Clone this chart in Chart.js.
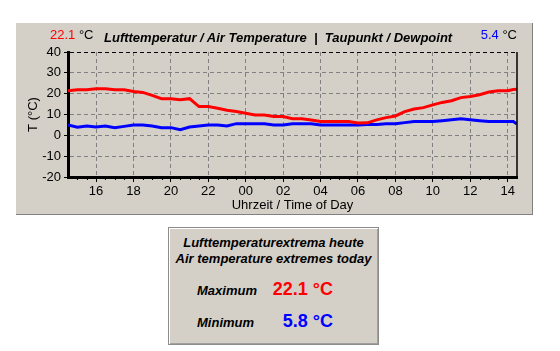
<!DOCTYPE html>
<html>
<head>
<meta charset="utf-8">
<script src="https://cdn.jsdelivr.net/npm/chart.js@4.4.0/dist/chart.umd.min.js"></script>
<style>
body { margin: 0; background: #fff; font-family: 'Liberation Sans', Arial, sans-serif; width: 560px; height: 351px; position: relative; overflow: hidden; }
#panel { position: absolute; left: 16px; top: 23px; width: 516px; height: 191px; background: #d4d0c8; border-right: 1px solid #808080; border-bottom: 1px solid #808080; }
#panel canvas { position: absolute; left: 0; top: 0; }
.t { position: absolute; white-space: nowrap; line-height: 1; }
.hdr { font-size: 13px; top: 5px; }
.title { font-size: 13px; font-weight: bold; font-style: italic; top: 8px; left: 88px; }
#box { position: absolute; left: 168px; top: 227px; width: 209px; height: 116px; background: #d4d0c8; border: 1px solid #8c8c8c; box-shadow: inset 1px 1px 0 #fff, inset -1px -1px 0 #a0a0a0; }
.bi { font-size: 13px; font-weight: bold; font-style: italic; }
.big { font-size: 18px; font-weight: bold; }
</style>
</head>
<body>
<div id="panel">
  <canvas id="chart" width="516" height="191"></canvas>
  <div class="t hdr" style="left:34px"><span id="airNow" style="color:#ff0000"></span> °C</div>
  <div class="t title">Lufttemperatur / Air Temperature&nbsp; |&nbsp; Taupunkt / Dewpoint</div>
  <div class="t hdr" style="right:15px"><span id="dewNow" style="color:#0000ff"></span> °C</div>
</div>
<div id="box">
  <div class="t bi" style="left:0;right:0;text-align:center;top:8px">Lufttemperaturextrema heute</div>
  <div class="t bi" style="left:0;right:0;text-align:center;top:24px">Air temperature extremes today</div>
  <div class="t bi" style="left:28px;top:56px">Maximum</div>
  <div class="t big" style="right:45px;top:52px;color:#ff0000"><span id="maxVal"></span> °C</div>
  <div class="t bi" style="left:28px;top:88px">Minimum</div>
  <div class="t big" style="right:45px;top:84px;color:#0000ff"><span id="minVal"></span> °C</div>
</div>
<script>
// time in hours since midnight of the previous day (14:30 -> 14:30 next day)
const hours = [14.5, 15, 15.5, 16, 16.5, 17, 17.5, 18, 18.5, 19, 19.5, 20, 20.5, 21, 21.5, 22, 22.5,
  23, 23.5, 24, 24.5, 25, 25.5, 26, 26.5, 27, 27.5, 28, 28.5, 29, 29.5, 30, 30.5,
  31, 31.5, 32, 32.5, 33, 33.5, 34, 34.5, 35, 35.5, 36, 36.5, 37, 37.5, 38, 38.3, 38.5];
const airTemp = [21.4, 21.9, 21.9, 22.4, 22.4, 21.9, 21.9, 21.0, 20.6, 19.2, 17.6, 17.6, 17.1, 17.6, 13.8, 13.8, 13.0,
  12.0, 11.4, 10.6, 9.8, 9.8, 9.0, 9.0, 8.0, 8.0, 7.4, 6.6, 6.6, 6.6, 6.6, 5.9, 6.0,
  7.4, 8.5, 9.3, 11.4, 12.6, 13.3, 14.6, 15.8, 16.6, 18.1, 18.6, 19.5, 20.8, 21.4, 21.4, 22.0, 22.1];
const dewPoint = [5.0, 3.9, 4.5, 4.0, 4.5, 3.7, 4.3, 5.0, 5.0, 4.5, 3.7, 3.7, 2.7, 4.0, 4.5, 5.0, 5.0,
  4.5, 5.6, 5.6, 5.6, 5.6, 5.0, 5.0, 5.6, 5.6, 5.6, 5.0, 5.0, 5.0, 5.0, 5.0, 5.2,
  5.2, 5.6, 5.6, 6.1, 6.6, 6.6, 6.6, 7.0, 7.5, 8.0, 7.5, 7.0, 6.6, 6.6, 6.6, 6.6, 5.4];
const xTicks = [16, 18, 20, 22, 24, 26, 28, 30, 32, 34, 36, 38];
const yMin = -20, yMax = 40, yStep = 10;
const airNow = '22.1', dewNow = '5.4', airMax = '22.1', airMin = '5.8';

document.getElementById('airNow').textContent = airNow;
document.getElementById('dewNow').textContent = dewNow;
document.getElementById('maxVal').textContent = airMax;
document.getElementById('minVal').textContent = airMin;

Chart.defaults.font.family = "'Liberation Sans', Arial, sans-serif";
Chart.defaults.color = '#000';

// right frame line + half-hour minor ticks on the time axis
const framePlugin = {
  id: 'frame',
  afterDraw(chart) {
    const { ctx, chartArea: a, scales: { x } } = chart;
    ctx.save();
    ctx.strokeStyle = '#000';
    ctx.lineWidth = 1.5;
    ctx.beginPath();
    ctx.moveTo(a.right, a.top);
    ctx.lineTo(a.right, a.bottom);
    ctx.stroke();
    ctx.lineWidth = 1;
    ctx.beginPath();
    for (let t = 15; t <= 38; t += 0.5) {
      if (xTicks.includes(t)) continue;
      const px = Math.round(x.getPixelForValue(t)) + 0.5;
      ctx.moveTo(px, a.bottom + 1);
      ctx.lineTo(px, a.bottom + 3);
    }
    ctx.stroke();
    ctx.restore();
  }
};

new Chart(document.getElementById('chart'), {
  type: 'line',
  data: {
    datasets: [
      { label: 'Lufttemperatur', data: hours.map((h, i) => ({ x: h, y: airTemp[i] })), borderColor: '#ff0000' },
      { label: 'Taupunkt', data: hours.map((h, i) => ({ x: h, y: dewPoint[i] })), borderColor: '#0000ff' }
    ]
  },
  options: {
    responsive: false,
    animation: false,
    layout: { padding: { left: 0, right: 15, top: 29, bottom: 0 } },
    plugins: { legend: { display: false }, tooltip: { enabled: false } },
    elements: { point: { radius: 0 }, line: { tension: 0, borderWidth: 3, fill: false } },
    scales: {
      x: {
        type: 'linear', min: 14.5, max: 38.5,
        afterBuildTicks: s => { s.ticks = xTicks.map(v => ({ value: v })); },
        afterFit: s => { s.height = 37; },
        ticks: { font: { size: 13 }, padding: 2, maxRotation: 0, autoSkip: false,
          callback: v => String(v % 24).padStart(2, '0') },
        grid: { color: '#808080', lineWidth: 1, tickColor: '#000', tickLength: 5 },
        border: { display: true, color: '#000', width: 3, dash: [4, 3] },
        title: { display: true, text: 'Uhrzeit / Time of Day', font: { size: 13 }, padding: { top: 0, bottom: 1 } }
      },
      y: {
        min: yMin, max: yMax,
        afterFit: s => { s.width = 52; },
        ticks: { stepSize: yStep, font: { size: 13 }, padding: 3 },
        grid: { color: c => (c.tick && c.tick.value === yMax ? '#000' : '#808080'), lineWidth: 1, tickColor: '#000', tickLength: 4 },
        border: { display: true, color: '#000', width: 3, dash: [4, 3] },
        title: { display: true, text: 'T (°C)', font: { size: 13 }, padding: { top: 10, bottom: 0 } }
      }
    }
  },
  plugins: [framePlugin]
});
</script>
</body>
</html>
